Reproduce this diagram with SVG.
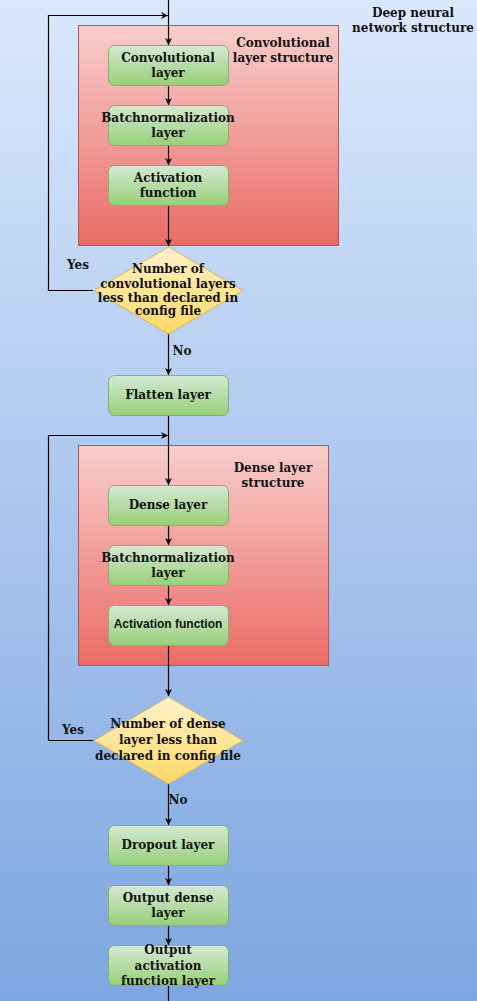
<svg xmlns="http://www.w3.org/2000/svg" width="477" height="1001" viewBox="0 0 477 1001">
<defs>
<linearGradient id="bg" x1="0" y1="0" x2="0" y2="1"><stop offset="0" stop-color="#dae8fc"/><stop offset="1" stop-color="#7ea6e0"/></linearGradient>
<linearGradient id="red" x1="0" y1="0" x2="0" y2="1"><stop offset="0" stop-color="#f8cecc"/><stop offset="1" stop-color="#ea6b66"/></linearGradient>
<linearGradient id="green" x1="0" y1="0" x2="0" y2="1"><stop offset="0" stop-color="#d5e8d4"/><stop offset="1" stop-color="#97d077"/></linearGradient>
<linearGradient id="yellow" x1="0" y1="0" x2="0" y2="1"><stop offset="0" stop-color="#fff2cc"/><stop offset="1" stop-color="#ffd966"/></linearGradient>
<marker id="arr" viewBox="0 0 10 10" refX="10" refY="5" markerWidth="7" markerHeight="7" markerUnits="userSpaceOnUse" orient="auto"><path d="M0,0 L10,5 L0,10 L3,5 Z" fill="#000"/></marker>
</defs>
<style>
.cont{fill:url(#red);stroke:#b85450;stroke-width:1}
.box{fill:url(#green);stroke:#82b366;stroke-width:1}
.dia{fill:url(#yellow);stroke:#d6b656;stroke-width:1}
.t{font-family:"DejaVu Serif",serif;font-weight:bold;font-size:12px;fill:#111;text-anchor:middle;dominant-baseline:central}
.s{font-family:"Liberation Sans",Arial,sans-serif;font-weight:bold;font-size:12px;fill:#111;text-anchor:middle;dominant-baseline:central}
.c{fill:none;stroke:#000;stroke-width:1.2}
</style>
<rect x="0" y="0" width="477" height="1001" fill="url(#bg)"/>
<g id="title"><text class="t" x="413" y="13">Deep neural</text><text class="t" x="413" y="28">network structure</text></g>
<g id="conv-structure"><rect class="cont" x="78.5" y="25.5" width="260" height="220"/><text class="t" x="283" y="43">Convolutional</text><text class="t" x="283" y="58">layer structure</text></g>
<g id="dense-structure"><rect class="cont" x="78.5" y="445.5" width="250" height="220"/><text class="t" x="273" y="468">Dense layer</text><text class="t" x="273" y="483">structure</text></g>
<g id="connectors">
<path class="c" d="M168.5,0 V45" marker-end="url(#arr)"/>
<path class="c" d="M168.5,85 V105" marker-end="url(#arr)"/>
<path class="c" d="M168.5,145 V165" marker-end="url(#arr)"/>
<path class="c" d="M168.5,205 V246" marker-end="url(#arr)"/>
<path class="c" d="M93,290.5 H48.5 V15.5 H168" marker-end="url(#arr)"/>
<path class="c" d="M168.5,333 V375" marker-end="url(#arr)"/>
<path class="c" d="M168.5,415 V485" marker-end="url(#arr)"/>
<path class="c" d="M168.5,525 V545" marker-end="url(#arr)"/>
<path class="c" d="M168.5,585 V605" marker-end="url(#arr)"/>
<path class="c" d="M168.5,645 V696" marker-end="url(#arr)"/>
<path class="c" d="M93,740.5 H48.5 V435.5 H168" marker-end="url(#arr)"/>
<path class="c" d="M168.5,783 V825" marker-end="url(#arr)"/>
<path class="c" d="M168.5,865 V885" marker-end="url(#arr)"/>
<path class="c" d="M168.5,925 V945" marker-end="url(#arr)"/>
<path class="c" d="M168.5,985 V1001"/>
<text class="t" x="78" y="265">Yes</text>
<text class="t" x="182" y="351">No</text>
<text class="t" x="73" y="730">Yes</text>
<text class="t" x="178" y="800">No</text>
</g>
<g id="conv-layer"><rect class="box" x="108.5" y="45.5" width="120" height="40" rx="6"/><text class="t" x="168" y="58">Convolutional</text><text class="t" x="168" y="73">layer</text></g>
<g id="batchnorm1"><rect class="box" x="108.5" y="105.5" width="120" height="40" rx="6"/><text class="t" x="168" y="118">Batchnormalization</text><text class="t" x="168" y="133">layer</text></g>
<g id="activation1"><rect class="box" x="108.5" y="165.5" width="120" height="40" rx="6"/><text class="t" x="168" y="178">Activation</text><text class="t" x="168" y="193">function</text></g>
<g id="decision1"><path class="dia" d="M168.5,247 L243,290.5 L168.5,334 L94,290.5 Z"/><text class="t" x="168" y="269">Number of</text><text class="t" x="168" y="283.5">convolutional layers</text><text class="t" x="168" y="297.5">less than declared in</text><text class="t" x="168" y="311">config file</text></g>
<g id="flatten"><rect class="box" x="108.5" y="375.5" width="120" height="40" rx="6"/><text class="t" x="168" y="395">Flatten layer</text></g>
<g id="dense-layer"><rect class="box" x="108.5" y="485.5" width="120" height="40" rx="6"/><text class="t" x="168" y="505">Dense layer</text></g>
<g id="batchnorm2"><rect class="box" x="108.5" y="545.5" width="120" height="40" rx="6"/><text class="t" x="168" y="558">Batchnormalization</text><text class="t" x="168" y="573">layer</text></g>
<g id="activation2"><rect class="box" x="108.5" y="605.5" width="120" height="40" rx="6"/><text class="s" x="168" y="624">Activation function</text></g>
<g id="decision2"><path class="dia" d="M168.5,697 L243,740.5 L168.5,784 L94,740.5 Z"/><text class="t" x="168" y="724">Number of dense</text><text class="t" x="168" y="740">layer less than</text><text class="t" x="168" y="756">declared in config file</text></g>
<g id="dropout"><rect class="box" x="108.5" y="825.5" width="120" height="40" rx="6"/><text class="t" x="168" y="845">Dropout layer</text></g>
<g id="output-dense"><rect class="box" x="108.5" y="885.5" width="120" height="40" rx="6"/><text class="t" x="168" y="898">Output dense</text><text class="t" x="168" y="913">layer</text></g>
<g id="output-activation"><rect class="box" x="108.5" y="945.5" width="120" height="40" rx="6"/><text class="t" x="168" y="950">Output</text><text class="t" x="168" y="965.5">activation</text><text class="t" x="168" y="981">function layer</text></g>
</svg>
